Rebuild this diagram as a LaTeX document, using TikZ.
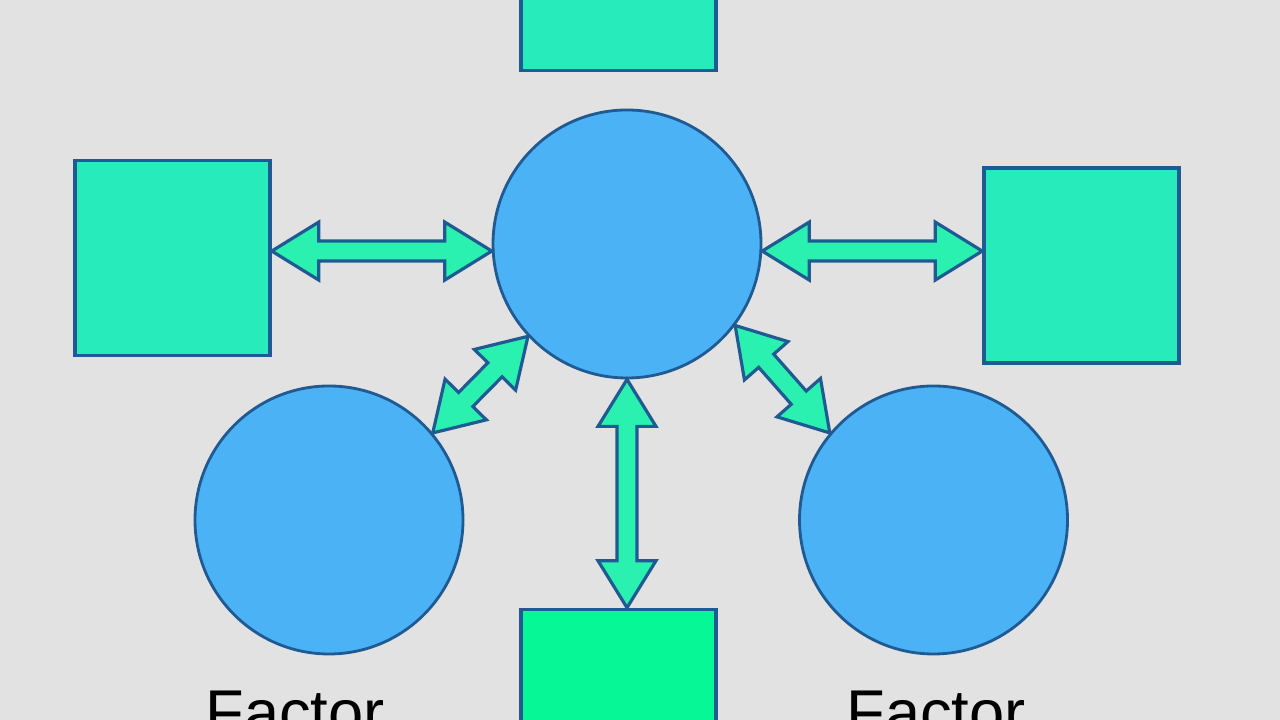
\documentclass[tikz,border=0pt]{standalone}
\usepackage{fontspec}
\setmainfont{Liberation Sans}
\usepackage{tikz}
\usetikzlibrary{calc, positioning}
\definecolor{bggray}{HTML}{E2E2E2}
\definecolor{edgeblue}{HTML}{1F5A92}
\definecolor{boxteal}{HTML}{28EBBC}
\definecolor{boxgreen}{HTML}{05F895}
\definecolor{ballblue}{HTML}{4AB2F5}
\definecolor{arrowgreen}{HTML}{2AF1B0}
\tikzstyle{factor}    = [draw=edgeblue, line width=1pt, fill=boxteal, minimum size=1.95cm, inner sep=0pt]
\tikzstyle{agent}     = [draw=edgeblue, line width=0.8pt, fill=ballblue, circle, minimum size=2.68cm, inner sep=0pt]
\tikzstyle{fatline}   = [draw=edgeblue, line width=0.9pt, fill=arrowgreen, line join=miter]
\tikzstyle{caption}   = [font=\fontsize{18pt}{20pt}\selectfont, anchor=base, inner sep=0pt]
% double block arrow from #1 to #2
\newcommand{\fatarrow}[2]{%
  \draw[fatline] (#1)
    -- ($(#1)!0.47cm!(#2)!0.29cm!90:(#2)$) -- ($(#1)!0.47cm!(#2)!0.10cm!90:(#2)$)
    -- ($(#2)!0.47cm!(#1)!0.10cm!-90:(#1)$) -- ($(#2)!0.47cm!(#1)!0.29cm!-90:(#1)$)
    -- (#2)
    -- ($(#2)!0.47cm!(#1)!0.29cm!90:(#1)$) -- ($(#2)!0.47cm!(#1)!0.10cm!90:(#1)$)
    -- ($(#1)!0.47cm!(#2)!0.10cm!-90:(#2)$) -- ($(#1)!0.47cm!(#2)!0.29cm!-90:(#2)$)
    -- cycle;}

\begin{document}
\begin{tikzpicture}
  \useasboundingbox (0,0) rectangle (12.8,7.2);
  \fill[bggray] (0,0) rectangle (12.8,7.2);
  \clip (0,0) rectangle (12.8,7.2);

  %put the circles
  \node[agent] (c)  at (6.27,4.76) {};
  \node[agent] (lc) at (3.29,2.00) {};
  \node[agent] (rc) at (9.335,2.00) {};

  %put the squares around
  \node[factor] (t) at (6.185,7.47) {};
  \node[factor] (l) at (1.725,4.62) {};
  \node[factor] (r) at (10.815,4.545) {};
  \node[factor, fill=boxgreen] (b) at (6.185,0.13) {};

  \node[caption] (fl) at (2.95,-0.15) {Factor};
  \node[caption] (fr) at (9.36,-0.15) {Factor};

  %arrows between them
  \coordinate (la) at (l.east |- c.183);
  \coordinate (ra) at (r.west |- c.357);
  \coordinate (ba) at (b.north -| c.south);
  \foreach \a/\b in {la/c.183, c.357/ra, c.south/ba, lc.40/c.223, c.323/rc.140}{
    \fatarrow{\a}{\b}
  }
\end{tikzpicture}
\end{document}
